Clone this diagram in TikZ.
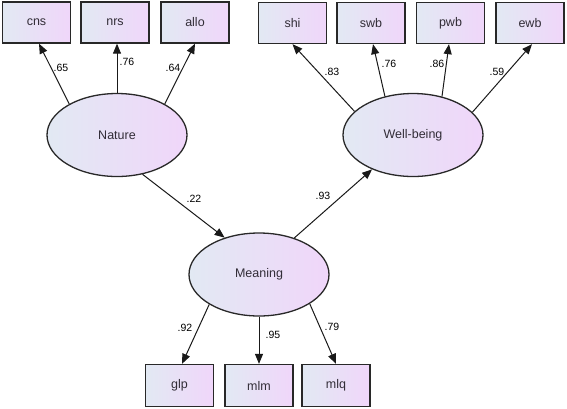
\documentclass[tikz,border=0pt]{standalone}
\usepackage{fontspec}
\setmainfont{Liberation Sans}
\usetikzlibrary{shapes.geometric,arrows.meta}
\definecolor{fillL}{RGB}{226,233,243}
\definecolor{fillR}{RGB}{240,214,250}
\definecolor{edgec}{RGB}{40,40,40}
\definecolor{txtc}{RGB}{50,45,55}
\begin{document}
\begin{tikzpicture}[x=1pt,y=-1pt,
  obs/.style={draw=edgec, line width=1.3pt, left color=fillL, right color=fillR,
    minimum width=68pt, minimum height=41pt, inner sep=0pt,
    font=\fontsize{12.5}{14}\selectfont, text=txtc},
  lat/.style={ellipse, draw=edgec, line width=1.3pt, left color=fillL, right color=fillR,
    minimum width=140pt, minimum height=83pt, inner sep=0pt,
    font=\fontsize{12.5}{15}\selectfont, text=txtc},
  arr/.style={-{Triangle[length=10pt,width=8pt]}, line width=1pt, draw=black!90},
  coef/.style={font=\fontsize{10.5}{12}\selectfont, inner sep=0pt, text=black}]
\useasboundingbox (0,0) rectangle (567,408);

% observed variables
\node[obs] (cns)  at (36.5,22.5) {cns};
\node[obs] (nrs)  at (115,22.5)  {nrs};
\node[obs] (allo) at (195,22.5)  {allo};
\node[obs] (shi)  at (292.5,23)  {shi};
\node[obs] (swb)  at (371,23)    {swb};
\node[obs] (pwb)  at (450.5,23)  {pwb};
\node[obs] (ewb)  at (530,23)    {ewb};
\node[obs, minimum height=42pt] (glp) at (179.5,385.5) {glp};
\node[obs, minimum height=42pt] (mlm) at (259,385.5)   {mlm};
\node[obs, minimum height=42pt] (mlq) at (336,385.5)   {mlq};

% latent variables
\node[lat] (nat) at (117,135) {Nature};
\node[lat] (wb)  at (413,135) {Well-being};
\node[lat] (mea) at (259,274.5) {Meaning};

% loadings
\draw[arr] (nat.147) -- ([xshift=2.5pt]cns.south);
\draw[arr] (nat.90)  -- ([xshift=2pt]nrs.south);
\draw[arr] (nat.33)  -- (allo.south);
\draw[arr] (wb.158)  -- (shi.south);
\draw[arr] (wb.126)  -- ([xshift=2pt]swb.south);
\draw[arr] (wb.53)   -- ([xshift=-1.5pt]pwb.south);
\draw[arr] (wb.21)   -- ([xshift=2pt]ewb.south);
\draw[arr] (mea.-149) -- ([xshift=2.5pt]glp.north);
\draw[arr] (mea.-90)  -- (mlm.north);
\draw[arr] (mea.-30)  -- (mlq.north);

% structural paths
\draw[arr] (nat.-57) -- (mea.133);
\draw[arr] (mea.46) -- (wb.-140);

% coefficients
\node[coef] (l1) at (61,68) {.65};
\node[coef] (l2) at (127,62) {.76};
\node[coef] (l3) at (173,68) {.64};
\node[coef] (l4) at (332,72) {.83};
\node[coef] (l5) at (389,64) {.76};
\node[coef] (l6) at (437,64) {.86};
\node[coef] (l7) at (497,72) {.59};
\node[coef] (l8) at (194,199) {.22};
\node[coef] (l9) at (323,196) {.93};
\node[coef] (l10) at (185,328) {.92};
\node[coef] (l11) at (273,335) {.95};
\node[coef] (l12) at (332,327) {.79};
\end{tikzpicture}
\end{document}
